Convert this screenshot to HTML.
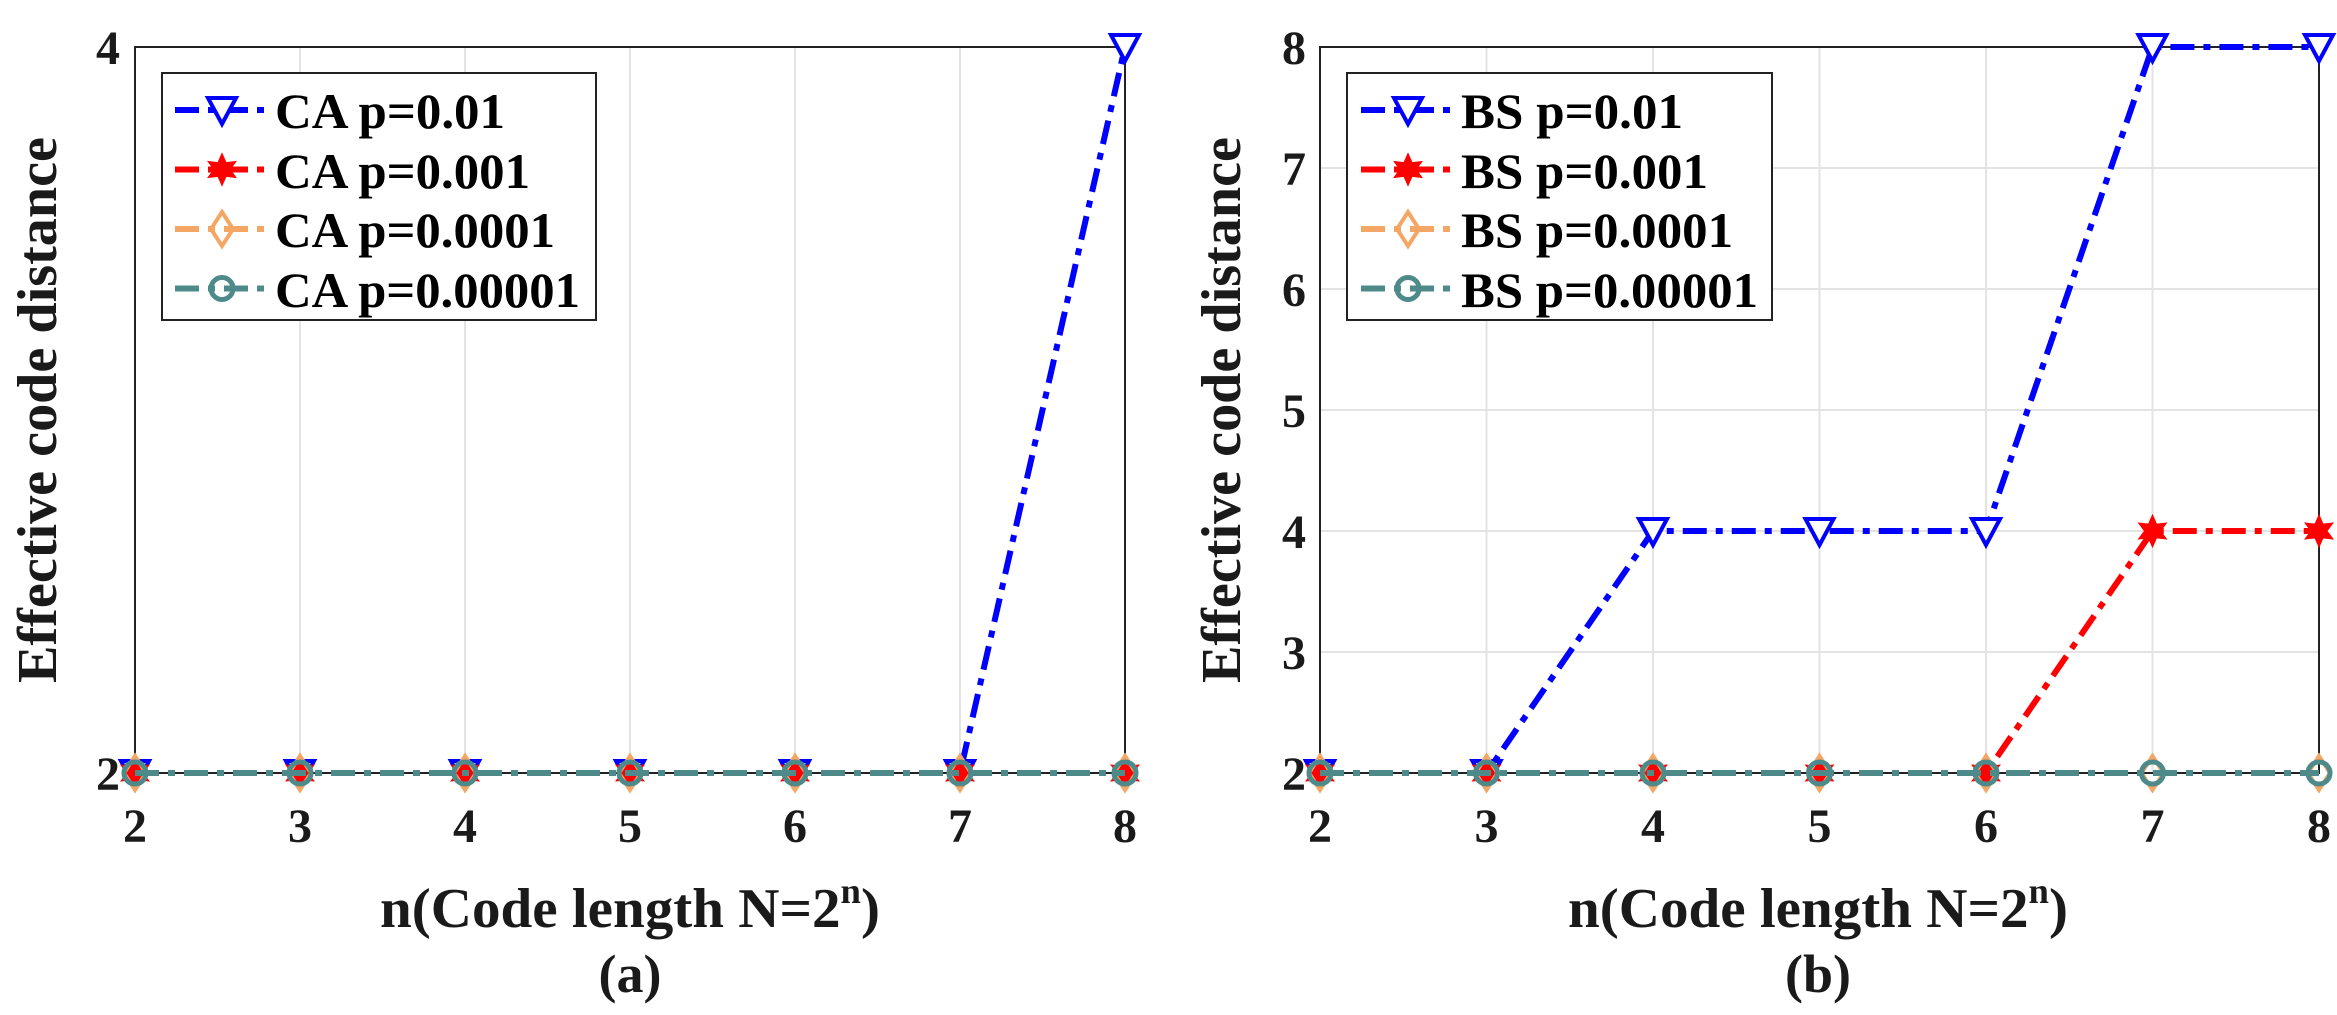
<!DOCTYPE html>
<html><head><meta charset="utf-8"><style>
html,body{margin:0;padding:0;background:#fff;}
svg{display:block;}
svg text{font-family:"Liberation Serif","DejaVu Serif",serif !important;font-weight:bold;}
</style></head><body>
<svg id="s" width="2337" height="1015" viewBox="0 0 2337 1015" xmlns="http://www.w3.org/2000/svg">
<rect width="2337" height="1015" fill="#fff"/>
<g id="grid"></g>
<rect x="135" y="47" width="990" height="726" fill="none" stroke="#222" stroke-width="2"/>
<rect x="1320" y="47" width="999" height="726" fill="none" stroke="#222" stroke-width="2"/>
<g id="series"></g>
<g font-size="48" text-anchor="middle" fill="#1a1a1a">
<text x="135" y="842">2</text><text x="300" y="842">3</text><text x="465" y="842">4</text><text x="630" y="842">5</text><text x="795" y="842">6</text><text x="960" y="842">7</text><text x="1125" y="842">8</text>
<text x="1320" y="842">2</text><text x="1486.5" y="842">3</text><text x="1653" y="842">4</text><text x="1819.5" y="842">5</text><text x="1986" y="842">6</text><text x="2152.5" y="842">7</text><text x="2319" y="842">8</text>
</g>
<g font-size="48" text-anchor="end" fill="#1a1a1a">
<text x="120" y="64">4</text><text x="120" y="790">2</text>
<text x="1306" y="64">8</text><text x="1306" y="185">7</text><text x="1306" y="306">6</text><text x="1306" y="427">5</text><text x="1306" y="548">4</text><text x="1306" y="669">3</text><text x="1306" y="790">2</text>
</g>
<g fill="#1a1a1a">
<text transform="translate(56,410) rotate(-90)" font-size="56" text-anchor="middle" textLength="546" lengthAdjust="spacingAndGlyphs">Effective code distance</text>
<text transform="translate(1240,410) rotate(-90)" font-size="56" text-anchor="middle" textLength="546" lengthAdjust="spacingAndGlyphs">Effective code distance</text>
<text x="380" y="927" font-size="56" textLength="500" lengthAdjust="spacingAndGlyphs">n(Code length N=2<tspan dy="-24" font-size="36">n</tspan><tspan dy="24">)</tspan></text>
<text x="1568" y="927" font-size="56" textLength="500" lengthAdjust="spacingAndGlyphs">n(Code length N=2<tspan dy="-24" font-size="36">n</tspan><tspan dy="24">)</tspan></text>
<text x="630" y="992" font-size="54" text-anchor="middle">(a)</text>
<text x="1818" y="992" font-size="54" text-anchor="middle">(b)</text>
</g>
<rect x="162" y="73" width="434" height="247" fill="#fff" stroke="#222" stroke-width="2"/>
<rect x="1347" y="73" width="425" height="247" fill="#fff" stroke="#222" stroke-width="2"/>
<g id="legmk"></g>
<g font-size="50" fill="#000">
<text x="275" y="128" textLength="230" lengthAdjust="spacingAndGlyphs">CA p=0.01</text><text x="275" y="188" textLength="255" lengthAdjust="spacingAndGlyphs">CA p=0.001</text><text x="275" y="247" textLength="280" lengthAdjust="spacingAndGlyphs">CA p=0.0001</text><text x="275" y="307" textLength="305" lengthAdjust="spacingAndGlyphs">CA p=0.00001</text>
<text x="1461" y="128" textLength="222" lengthAdjust="spacingAndGlyphs">BS p=0.01</text><text x="1461" y="188" textLength="247" lengthAdjust="spacingAndGlyphs">BS p=0.001</text><text x="1461" y="247" textLength="272" lengthAdjust="spacingAndGlyphs">BS p=0.0001</text><text x="1461" y="307" textLength="297" lengthAdjust="spacingAndGlyphs">BS p=0.00001</text>
</g>
</svg>
<script>
const NS="http://www.w3.org/2000/svg";
function el(p,tag,a){const e=document.createElementNS(NS,tag);for(const k in a)e.setAttribute(k,a[k]);p.appendChild(e);return e;}
const grid=document.getElementById('grid'),ser=document.getElementById('series'),lm=document.getElementById('legmk');
for(let i=1;i<6;i++){el(grid,'line',{x1:135+165*i,x2:135+165*i,y1:47,y2:773,stroke:'#e3e3e3','stroke-width':2});
 el(grid,'line',{x1:1320+166.5*i,x2:1320+166.5*i,y1:47,y2:773,stroke:'#e3e3e3','stroke-width':2});}
for(let i=1;i<6;i++){el(grid,'line',{x1:1320,x2:2319,y1:773-121*i,y2:773-121*i,stroke:'#e3e3e3','stroke-width':2});}
const cols=['#0000ff','#ff0000','#f4a664','#4f8a8b'];
function marker(g,k,x,y){
 const c=cols[k];
 if(k==0){el(g,'path',{d:`M${x-14},${y-12}L${x+14},${y-12}L${x},${y+14}Z`,fill:'#fff',stroke:c,'stroke-width':4});}
 else if(k==1){let p='';for(let i=0;i<12;i++){const r=i%2?8:16,a=Math.PI/6*i-Math.PI/2;p+=(i?'L':'M')+(x+r*Math.cos(a)).toFixed(1)+','+(y+r*Math.sin(a)).toFixed(1);}el(g,'path',{d:p+'Z',fill:c,stroke:c,'stroke-width':1});}
 else if(k==2){el(g,'path',{d:`M${x},${y-17}L${x+11},${y}L${x},${y+17}L${x-11},${y}Z`,fill:'none',stroke:c,'stroke-width':4});}
 else {el(g,'circle',{cx:x,cy:y,r:11,fill:'none',stroke:c,'stroke-width':5});}
}
const dash='24,9,7,9';
function plot(x0,dx,y0,dy,ymin,data){
 data.forEach((d,k)=>{
  const pts=d.map((v,i)=>[x0+dx*i,y0-(v-ymin)*dy]);
  el(ser,'polyline',{points:pts.map(p=>p.join(',')).join(' '),fill:'none',stroke:cols[k],'stroke-width':6,'stroke-dasharray':dash});
  pts.forEach(p=>marker(ser,k,p[0],p[1]));
 });
}
plot(135,165,773,363,2,[[2,2,2,2,2,2,4],[2,2,2,2,2,2,2],[2,2,2,2,2,2,2],[2,2,2,2,2,2,2]]);
plot(1320,166.5,773,121,2,[[2,2,4,4,4,8,8],[2,2,2,2,2,4,4],[2,2,2,2,2,2,2],[2,2,2,2,2,2,2]]);
[[175,110],[1361,110]].forEach(([lx,ly])=>{
 for(let k=0;k<4;k++){const y=ly+59.5*k;
  el(lm,'line',{x1:lx,x2:lx+92,y1:y,y2:y,stroke:cols[k],'stroke-width':6,'stroke-dasharray':dash});
  marker(lm,k,lx+47,y);}
});
</script>
</body></html>
